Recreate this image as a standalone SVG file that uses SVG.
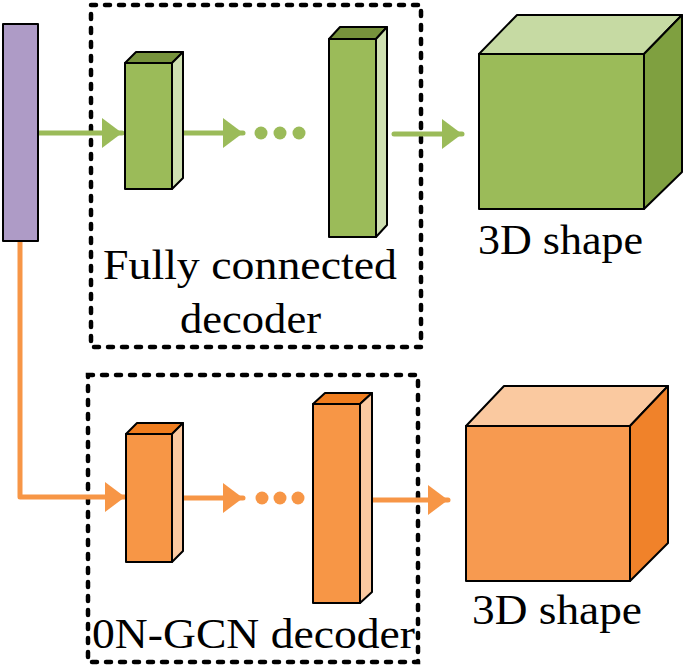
<svg xmlns="http://www.w3.org/2000/svg" width="685" height="665" viewBox="0 0 685 665">
<defs>
<style>
.ol{stroke:#000;stroke-width:2;stroke-linejoin:round}
.box{fill:none;stroke:#000;stroke-width:4.5;stroke-dasharray:5 9;stroke-linecap:round}
.txt{font-family:"Liberation Serif","Times New Roman",serif;font-size:42px;fill:#000}
.gl{stroke:#9BBB59;stroke-width:5;fill:none;stroke-linecap:round}
.orl{stroke:#F79646;stroke-width:5;fill:none;stroke-linecap:round;stroke-linejoin:round}
</style>
<marker id="ag" markerUnits="userSpaceOnUse" markerWidth="22" markerHeight="30" refX="20" refY="15" orient="auto"><path d="M0,0 L20,15 L0,30 Z" fill="#9BBB59"/></marker>
<marker id="ao" markerUnits="userSpaceOnUse" markerWidth="22" markerHeight="30" refX="20" refY="15" orient="auto"><path d="M0,0 L20,15 L0,30 Z" fill="#F79646"/></marker>
</defs>
<rect width="685" height="665" fill="#fff"/>

<g id="fc-box">
<rect class="box" x="91" y="5" width="330" height="342"/>
<text class="txt" x="103" y="279" textLength="294" lengthAdjust="spacingAndGlyphs">Fully connected</text>
<text class="txt" x="180" y="333" textLength="141" lengthAdjust="spacingAndGlyphs">decoder</text>
</g>
<g id="gcn-box">
<rect class="box" x="88" y="375" width="330" height="287"/>
<text class="txt" x="92" y="648" textLength="323" lengthAdjust="spacingAndGlyphs">0N-GCN decoder</text>
</g>

<g id="connectors">
<line class="gl" x1="38" y1="133" x2="122" y2="133" marker-end="url(#ag)"/>
<line class="gl" x1="177" y1="133" x2="243" y2="133" marker-end="url(#ag)"/>
<line class="gl" x1="394" y1="134" x2="462" y2="134" marker-end="url(#ag)"/>
<polyline class="orl" points="20,241 20,497 125,497" marker-end="url(#ao)"/>
<line class="orl" x1="177" y1="498" x2="243" y2="498" marker-end="url(#ao)"/>
<line class="orl" x1="367" y1="500" x2="448" y2="500" marker-end="url(#ao)"/>
<g fill="#9BBB59"><circle cx="261" cy="133" r="6.5"/><circle cx="280" cy="133" r="6.5"/><circle cx="299" cy="133" r="6.5"/></g>
<g fill="#F79646"><circle cx="262" cy="498" r="6.5"/><circle cx="280" cy="498" r="6.5"/><circle cx="298" cy="498" r="6.5"/></g>
</g>

<g id="latent">
<rect class="ol" x="3" y="24" width="35" height="217" fill="#AE9BC6"/>
</g>

<g id="fc1">
<rect class="ol" x="125" y="63" width="47" height="126" fill="#9BBB59"/>
<path class="ol" d="M125,63 L136,52 L183,52 L172,63 Z" fill="#77933C"/>
<path class="ol" d="M172,63 L183,52 L183,178 L172,189 Z" fill="#CFE0B1"/>
</g>
<g id="fc2">
<rect class="ol" x="329" y="39" width="47" height="198" fill="#9BBB59"/>
<path class="ol" d="M329,39 L340,27 L387,27 L376,39 Z" fill="#77933C"/>
<path class="ol" d="M376,39 L387,27 L387,225 L376,237 Z" fill="#CFE0B1"/>
</g>
<g id="shape-green">
<rect class="ol" x="479" y="54" width="165" height="155" fill="#9BBB59"/>
<path class="ol" d="M479,54 L517,15 L682,15 L644,54 Z" fill="#C6DAA3"/>
<path class="ol" d="M644,54 L682,15 L682,172 L644,209 Z" fill="#7FA040"/>
<text class="txt" x="478" y="254" textLength="165" lengthAdjust="spacingAndGlyphs">3D shape</text>
</g>

<g id="gcn1">
<rect class="ol" x="126" y="434" width="46" height="128" fill="#F79646"/>
<path class="ol" d="M126,434 L137,423 L183,423 L172,434 Z" fill="#F07D1E"/>
<path class="ol" d="M172,434 L183,423 L183,551 L172,562 Z" fill="#FBC9A0"/>
</g>
<g id="gcn2">
<rect class="ol" x="313" y="404" width="47" height="199" fill="#F79646"/>
<path class="ol" d="M313,404 L325,393 L372,393 L360,404 Z" fill="#F07D1E"/>
<path class="ol" d="M360,404 L372,393 L372,592 L360,603 Z" fill="#FBC9A0"/>
</g>
<g id="shape-orange">
<rect class="ol" x="466" y="426" width="164" height="155" fill="#F79A50"/>
<path class="ol" d="M466,426 L504,386 L668,386 L630,426 Z" fill="#FAC9A0"/>
<path class="ol" d="M630,426 L668,386 L668,543 L630,581 Z" fill="#F0822A"/>
<text class="txt" x="472" y="624" textLength="170" lengthAdjust="spacingAndGlyphs">3D shape</text>
</g>
</svg>
